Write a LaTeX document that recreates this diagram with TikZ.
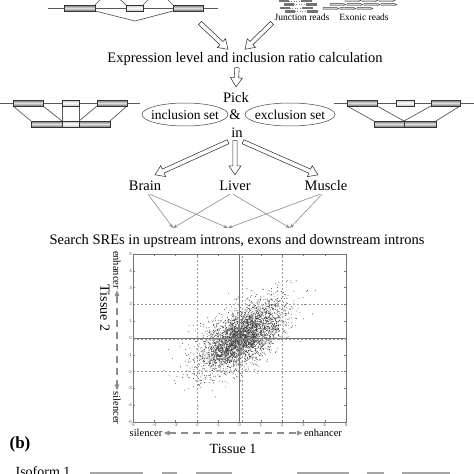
\documentclass[tikz,border=0pt]{standalone}
\usepackage{fontspec}
\setmainfont{Liberation Serif}
\setsansfont{Liberation Sans}
\usetikzlibrary{calc,arrows.meta}

% block arrow drawn as an outline
\newcommand{\hollowarrow}[2]{%
  \coordinate (ha) at (#1);
  \coordinate (hb) at (#2);
  \coordinate (hh) at ($(hb)!9pt!(ha)$);
  \draw[hollow] ($(ha)!2.2pt!90:(hb)$) -- ($(hh)!2.2pt!90:(hb)$) -- ($(hh)!6pt!90:(hb)$)
    -- (hb) -- ($(hh)!6pt!-90:(hb)$) -- ($(hh)!2.2pt!-90:(hb)$) -- ($(ha)!2.2pt!-90:(hb)$) -- cycle;
}

\begin{document}
\begin{tikzpicture}[x=1pt,y=-1pt,
  txt/.style={inner sep=1pt,text height=10pt,text depth=3pt,font=\fontsize{14.5}{16}\selectfont},
  setlbl/.style={txt,font=\fontsize{13.5}{15}\selectfont},
  small/.style={inner sep=1pt,font=\fontsize{9.5}{11}\selectfont},
  side/.style={inner sep=1pt,font=\fontsize{10.5}{12}\selectfont},
  tick/.style={inner sep=0.8pt,text=black!60,font=\sffamily\fontsize{4.5}{5}\selectfont},
  intron/.style={black!65,line width=0.7pt},
  exon/.style={draw=black!80,line width=0.5pt,top color=black!55,bottom color=black!55,middle color=black!12},
  altexon/.style={draw=black!80,line width=0.5pt,top color=black!25,bottom color=black!25,middle color=white},
  read/.style={fill=black!55},
  exread/.style={draw=black!70,fill=black!20,line width=0.4pt},
  hollow/.style={draw=black!80,fill=white,line width=0.55pt,line join=miter},
  feed/.style={draw=black!45,line width=0.6pt,-{Stealth[length=4.5pt,width=3.5pt]}},
  dirarrow/.style={black!45,line width=1.3pt,dash pattern=on 7pt off 5pt,{Triangle[length=6pt,width=4.5pt]}-{Triangle[length=6pt,width=4.5pt]}},
  grid/.style={black!40,line width=0.4pt,dash pattern=on 2pt off 2pt},
  zero/.style={black!55,line width=0.6pt},
  frame/.style={black!55,line width=0.6pt},
  dot/.style={fill=black!80},
  isobar/.style={fill=black!35}]
\useasboundingbox (0,0) rectangle (474,474);
\clip (0,0) rectangle (474,474);

% gene model at the top
\draw[intron] (48,8) -- (218,8);
\draw[intron] (95,5) -- (110,-10) -- (126,5);
\draw[intron] (143,5) -- (158,-10) -- (173,5);
\draw[intron] (95,11) -- (135,21) -- (173,11);
\draw[exon] (64,5) rectangle (95,11);
\draw[altexon] (126,5) rectangle (143,11);
\draw[exon] (173,5) rectangle (203,11);

% reads
\foreach \x/\y in {279/1,284/4.5,280/8,285/11.5}{
  \fill[read] (\x,\y-1.2) rectangle (\x+10,\y+1.2);
  \draw[dotted,black!50] (\x+10,\y) -- (\x+22,\y);
  \fill[read] (\x+22,\y-1.2) rectangle (\x+33,\y+1.2);
}
\foreach \x/\y in {345/0.5,362/0.5,379/0.5,330/4.5,347/4.5,364/4.5,381/4.5,323/8.5,340/8.5,357/8.5}{
  \draw[exread] (\x,\y-1.2) -- (\x+13,\y-1.2) -- (\x+16,\y) -- (\x+13,\y+1.2) -- (\x,\y+1.2) -- cycle;
}
\node[small] (junc) at (302,17) {Junction reads};
\node[small] (exonic) at (364,17) {Exonic reads};

\node[txt] (calc) at (245,59) {Expression level and inclusion ratio calculation};
\coordinate (genetail) at (200,23);
\coordinate (readtail) at (272,23);
\hollowarrow{genetail}{$(calc.north)+(-17,-2)$}
\hollowarrow{readtail}{$(calc.north)+(0,-2)$}

% inclusion and exclusion sets
\node[txt] (pick) at (236,98.5) {Pick};
\node[txt] (amp) at (235,115.5) {\&};
\node[txt] (in) at (237,134) {in};
\node[setlbl] (incl) at (185,115.5) {inclusion set};
\node[setlbl] (excl) at (290,115.5) {exclusion set};
\draw[black!75,line width=0.5pt] ($(incl.center)+(0,-1)$) ellipse [x radius=43pt,y radius=11.5pt];
\draw[black!75,line width=0.5pt] ($(excl.center)+(0,-1)$) ellipse [x radius=45pt,y radius=11.5pt];
\hollowarrow{$(calc.south)+(-8,1)$}{$(pick.north)+(0,-4)$}

\draw[intron] (0,103) -- (140,103);
\draw[intron] (13,106) -- (31,121);
\draw[intron] (43,106) -- (62,121);
\draw[intron] (62,106) -- (62,121);
\draw[intron] (79,106) -- (79,121);
\draw[intron] (97,106) -- (79,121);
\draw[intron] (127,106) -- (110,121);
\draw[exon] (13,100) rectangle (43,106);
\draw[altexon] (62,100) rectangle (79,106);
\draw[exon] (97,100) rectangle (127,106);
\draw[exon] (31,121) rectangle (62,127);
\draw[altexon] (62,121) rectangle (79,127);
\draw[exon] (79,121) rectangle (110,127);

\draw[intron] (334,103) -- (474,103);
\draw[intron] (347,106) -- (374,121);
\draw[intron] (377,106) -- (404,121);
\draw[intron] (431,106) -- (404,121);
\draw[intron] (460,106) -- (436,121);
\draw[exon] (347,100) rectangle (377,106);
\draw[altexon] (396,100) rectangle (414,106);
\draw[exon] (431,100) rectangle (460,106);
\draw[exon] (374,121) rectangle (404,127);
\draw[exon] (404,121) rectangle (436,127);

% tissues
\node[txt] (brain) at (145,186.5) {Brain};
\node[txt] (liver) at (235,186.5) {Liver};
\node[txt] (muscle) at (326,186.5) {Muscle};
\hollowarrow{$(in.south)+(-9,0)$}{$(brain.north)+(10,-4)$}
\hollowarrow{$(in.south)+(-2,-1)$}{$(liver.north)+(0,-4)$}
\hollowarrow{$(in.south)+(6,0)$}{$(muscle.north)+(-8,-4)$}

\node[txt] (search) at (237,240.5) {Search SREs in upstream introns, exons and downstream introns};
\coordinate (upstream) at (173,228);
\coordinate (exons) at (228,228);
\coordinate (downstream) at (290,228);
\draw[feed] ($(brain.south)+(3,0)$) -- (upstream);
\draw[feed] ($(brain.south)+(5,0)$) -- (exons);
\draw[feed] ($(liver.south)+(-5,0)$) -- (upstream);
\draw[feed] ($(liver.south)+(-2,0)$) -- (downstream);
\draw[feed] ($(muscle.south)+(-6,0)$) -- (exons);
\draw[feed] ($(muscle.south)+(-4,0)$) -- (downstream);

% scatter plot
\begin{scope}[shift={(239.5,338)},x=21.3pt,y=16.8pt]
  \begin{scope}
    \clip (-5,-5) rectangle (5,5);
    \pgfmathsetseed{4217}
    \foreach \k in {1,...,3600}{
      \pgfmathsetmacro\ra{sqrt(-2*ln(max(rnd,0.0005)))}
      \pgfmathsetmacro\th{360*rnd}
      \pgfmathsetmacro\za{\ra*cos(\th)}
      \pgfmathsetmacro\zb{\ra*sin(\th)}
      \fill[dot] ({0.1+1.0*\za},{0.05+0.65*\za+0.85*\zb}) circle (0.45pt);
    }
  \end{scope}
  \foreach \v in {-2,2}{
    \draw[grid] (\v,-5) -- (\v,5);
    \draw[grid] (-5,\v) -- (5,\v);
  }
  \draw[grid] (0.15,-5) -- (0.15,5);
  \draw[grid] (-5,-0.1) -- (5,-0.1);
  \draw[zero] (0,-5) -- (0,5);
  \draw[zero] (-5,0) -- (5,0);
  \draw[frame] (-5,-5) rectangle (5,5);
  \foreach \i in {-5,...,5}{
    \draw[frame,line width=0.4pt] (\i,-5) -- (\i,-4.88);
    \draw[frame,line width=0.4pt] (\i,5) -- (\i,4.88);
    \draw[frame,line width=0.4pt] (-5,\i) -- (-4.9,\i);
    \draw[frame,line width=0.4pt] (5,\i) -- (4.9,\i);
    \node[tick,anchor=east] (yl\i) at (-5,\i) {\i};
    \node[tick,anchor=north] (xl\i) at (\i,-5) {\i};
  }
\end{scope}

\node[side] (hsil) at (146,433) {silencer};
\node[side] (henh) at (323,433) {enhancer};
\draw[dirarrow] (hsil.east) -- (henh.west);
\node[txt,font=\fontsize{14}{16}\selectfont] (tis1) at (233,449.5) {Tissue 1};
\node[side,rotate=-90] (venh) at (117,270) {enhancer};
\node[side,rotate=-90] (vsil) at (117,408) {silencer};
\draw[dirarrow] (venh.east) -- (vsil.west);
\node[inner sep=1pt,rotate=-90,font=\fontsize{14}{16}\selectfont] (tis2) at (105,308) {Tissue 2};

% part (b)
\node[inner sep=1pt,font=\bfseries\fontsize{17}{19}\selectfont] (partb) at (20,444.5) {(b)};
\node[txt,font=\fontsize{14}{16}\selectfont] (iso1) at (43,473) {Isoform 1};
\foreach \a/\b in {90/143,162/177,196/232,297/349,367/384,402/450}{
  \fill[isobar] (\a,472) rectangle (\b,480);
}
\end{tikzpicture}
\end{document}
